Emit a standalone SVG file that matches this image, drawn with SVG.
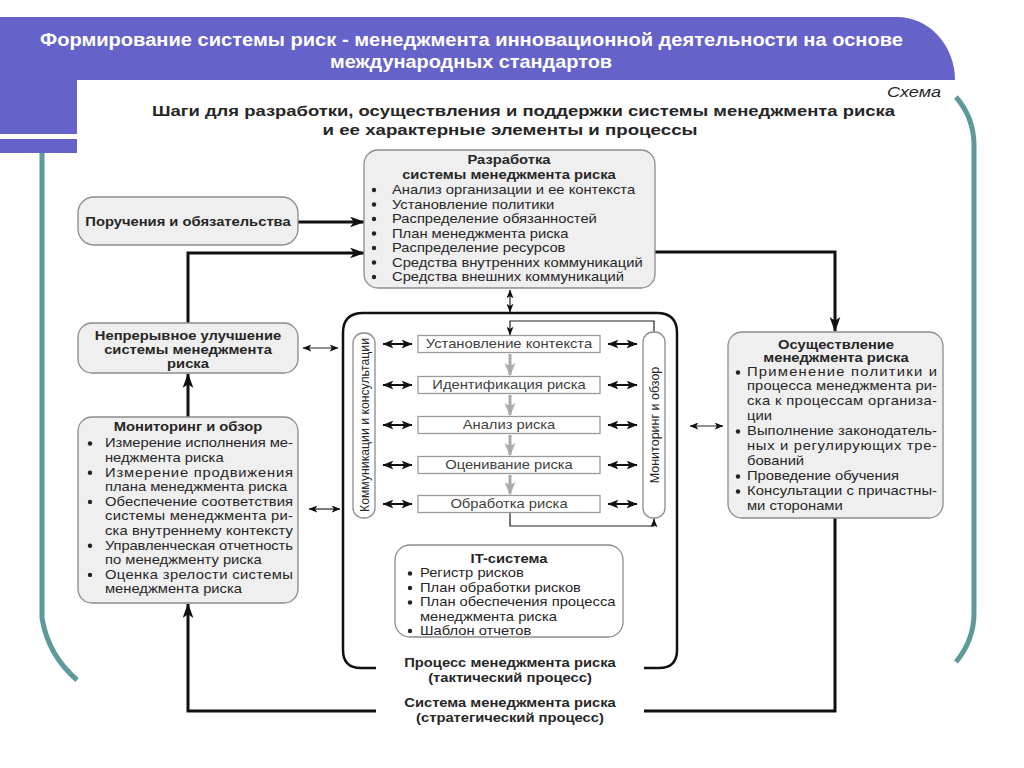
<svg xmlns="http://www.w3.org/2000/svg" width="1024" height="768" viewBox="0 0 1024 768">
<defs>
<style>
.t{font-family:"Liberation Sans",Arial,sans-serif;font-size:13px;fill:#262626}
.b{font-weight:bold}
.m{text-anchor:middle}
.box{fill:#efefef;stroke:#8c8c8c;stroke-width:1.3}
.wbox{fill:#ffffff;stroke:#8c8c8c;stroke-width:1.3}
.step{fill:#ffffff;stroke:#9a9a9a;stroke-width:1.3}
.thick{fill:none;stroke:#111;stroke-width:3}
.frame{fill:none;stroke:#111;stroke-width:2.5}
.thin{fill:none;stroke:#222;stroke-width:1.2}
.dbl{fill:none;stroke:#111;stroke-width:2}
.gray{fill:none;stroke:#aaaaaa;stroke-width:3}
.teal{fill:none;stroke:#5f9a9b;stroke-width:5}
.bul{fill:#222}
.st{fill:#404040}
</style>
<marker id="ah" viewBox="0 0 14 10" refX="13" refY="5" markerWidth="15" markerHeight="11" orient="auto" markerUnits="userSpaceOnUse"><path d="M0,0 L14,5 L0,10 L3.5,5 Z" fill="#111"/></marker>
<marker id="sm" viewBox="0 0 10 8" refX="9.5" refY="4" markerWidth="9" markerHeight="7" orient="auto-start-reverse" markerUnits="userSpaceOnUse"><path d="M0,0 L10,4 L0,8 L2.5,4 Z" fill="#111"/></marker>
<marker id="md" viewBox="0 0 10 8" refX="9.5" refY="4" markerWidth="11" markerHeight="9" orient="auto-start-reverse" markerUnits="userSpaceOnUse"><path d="M0,0 L10,4 L0,8 L2.5,4 Z" fill="#111"/></marker>
<marker id="ga" viewBox="0 0 12 10" refX="11" refY="5" markerWidth="13" markerHeight="11" orient="auto" markerUnits="userSpaceOnUse"><path d="M0,0 L12,5 L0,10 L3,5 Z" fill="#aaaaaa"/></marker>
</defs>
<rect width="1024" height="768" fill="#ffffff"/>
<g id="background">
<path d="M0,17 H897 A58,63 0 0 1 955,80 H0 Z" fill="#6563c9"/>
<rect x="0" y="80" width="77" height="54" fill="#6563c9"/>
<rect x="0" y="139" width="77" height="14" fill="#6563c9"/>
<path class="teal" d="M42,153 V618 Q48,655 77,680"/>
<path class="teal" d="M956,97 Q974,118 974,145 V613 Q974,640 956,662"/>
</g>
<g id="title">
<text class="t b m" x="471.5" y="46" style="font-size:18px;fill:#ffffff" textLength="863" lengthAdjust="spacingAndGlyphs">Формирование системы риск - менеджмента  инновационной деятельности на основе</text>
<text class="t b m" x="471" y="68" style="font-size:18px;fill:#ffffff" textLength="282" lengthAdjust="spacingAndGlyphs">международных стандартов</text>
<text class="t" x="941" y="97" style="font-size:14px;font-style:italic;text-anchor:end" textLength="54" lengthAdjust="spacingAndGlyphs">Схема</text>
<text class="t b m" x="523.5" y="116" style="font-size:15px" textLength="743" lengthAdjust="spacingAndGlyphs">Шаги для разработки, осуществления и поддержки системы менеджмента риска</text>
<text class="t b m" x="510" y="135" style="font-size:15px" textLength="375" lengthAdjust="spacingAndGlyphs">и ее характерные элементы и процессы</text>
</g>
<g id="connectors">
<line class="thick" x1="298" y1="222" x2="364" y2="222" marker-end="url(#ah)"/>
<polyline class="thick" points="188,323 188,253 364,253" marker-end="url(#ah)"/>
<line class="thick" x1="188" y1="417" x2="188" y2="374" marker-end="url(#ah)"/>
<polyline class="thick" points="376,711 188,711 188,604" marker-end="url(#ah)"/>
<polyline class="thick" points="655,252 835,252 835,331" marker-end="url(#ah)"/>
<polyline class="thick" points="835,518 835,711 644,711"/>
<line class="thin" x1="303" y1="348" x2="338" y2="348" marker-start="url(#sm)" marker-end="url(#sm)"/>
<line class="thin" x1="309" y1="509" x2="340" y2="509" marker-start="url(#sm)" marker-end="url(#sm)"/>
<line class="thin" x1="690" y1="426" x2="723" y2="426" marker-start="url(#sm)" marker-end="url(#sm)"/>
<line class="thin" x1="510" y1="290" x2="510" y2="312" marker-start="url(#sm)" marker-end="url(#sm)"/>
<polyline class="thin" points="654,332 654,321 510,321 510,335" marker-end="url(#sm)"/>
<polyline class="thin" points="510,513 510,526 654,526 654,519" marker-end="url(#sm)"/>
<line class="dbl" x1="383" y1="344" x2="412" y2="344" marker-start="url(#md)" marker-end="url(#md)"/>
<line class="dbl" x1="383" y1="385" x2="412" y2="385" marker-start="url(#md)" marker-end="url(#md)"/>
<line class="dbl" x1="383" y1="425" x2="412" y2="425" marker-start="url(#md)" marker-end="url(#md)"/>
<line class="dbl" x1="383" y1="465" x2="412" y2="465" marker-start="url(#md)" marker-end="url(#md)"/>
<line class="dbl" x1="383" y1="504" x2="412" y2="504" marker-start="url(#md)" marker-end="url(#md)"/>
<line class="dbl" x1="608" y1="344" x2="637" y2="344" marker-start="url(#md)" marker-end="url(#md)"/>
<line class="dbl" x1="608" y1="385" x2="637" y2="385" marker-start="url(#md)" marker-end="url(#md)"/>
<line class="dbl" x1="608" y1="425" x2="637" y2="425" marker-start="url(#md)" marker-end="url(#md)"/>
<line class="dbl" x1="608" y1="465" x2="637" y2="465" marker-start="url(#md)" marker-end="url(#md)"/>
<line class="dbl" x1="608" y1="504" x2="637" y2="504" marker-start="url(#md)" marker-end="url(#md)"/>
<line class="gray" x1="510" y1="354" x2="510" y2="375" marker-end="url(#ga)"/>
<line class="gray" x1="510" y1="395" x2="510" y2="415" marker-end="url(#ga)"/>
<line class="gray" x1="510" y1="435" x2="510" y2="455" marker-end="url(#ga)"/>
<line class="gray" x1="510" y1="475" x2="510" y2="494" marker-end="url(#ga)"/>
</g>
<g id="tactical-frame">
<path class="frame" d="M376,668 H361 Q343,668 343,650 V333 Q343,313 363,313 H657 Q677,313 677,333 V650 Q677,668 659,668 H644"/>
<g transform="matrix(1.135,0,0,1,-68.85,0)">
<text class="t b m" x="510" y="667.5">Процесс менеджмента риска</text>
<text class="t b m" x="510" y="682">(тактический процесс)</text>
</g>
</g>
<g id="strategic-label">
<g transform="matrix(1.135,0,0,1,-68.85,0)">
<text class="t b m" x="510" y="707.5">Система менеджмента риска</text>
<text class="t b m" x="510" y="722">(стратегический процесс)</text>
</g>
</g>
<g id="dev">
<rect class="box" x="364" y="150" width="291" height="138" rx="14"/>
<g transform="matrix(1.135,0,0,1,-68.715,0)">
<text class="t b m" x="509" y="164.5">Разработка</text>
<text class="t b m" x="509" y="179">системы менеджмента риска</text>
</g>
<circle class="bul" cx="374" cy="190" r="2.2"/>
<circle class="bul" cx="374" cy="204.5" r="2.2"/>
<circle class="bul" cx="374" cy="219" r="2.2"/>
<circle class="bul" cx="374" cy="233.5" r="2.2"/>
<circle class="bul" cx="374" cy="248" r="2.2"/>
<circle class="bul" cx="374" cy="262.5" r="2.2"/>
<circle class="bul" cx="374" cy="277" r="2.2"/>
<g transform="matrix(1.135,0,0,1,-52.92,0)">
<text class="t" x="392" y="194.5">Анализ организации и ее контекста</text>
<text class="t" x="392" y="209">Установление политики</text>
<text class="t" x="392" y="223.5">Распределение обязанностей</text>
<text class="t" x="392" y="238">План менеджмента риска</text>
<text class="t" x="392" y="252.5">Распределение ресурсов</text>
<text class="t" x="392" y="267">Средства внутренних коммуникаций</text>
<text class="t" x="392" y="281.5">Средства внешних коммуникаций</text>
</g>
</g>
<g id="orders">
<rect class="box" x="78" y="197" width="220" height="48" rx="16"/>
<text class="t b m" x="188" y="226.5" transform="matrix(1.135,0,0,1,-25.38,0)">Поручения и обязательства</text>
</g>
<g id="improvement">
<rect class="box" x="78" y="323" width="220" height="50" rx="14"/>
<g transform="matrix(1.135,0,0,1,-25.38,0)">
<text class="t b m" x="188" y="340">Непрерывное улучшение</text>
<text class="t b m" x="188" y="354">системы менеджмента</text>
<text class="t b m" x="188" y="368">риска</text>
</g>
</g>
<g id="monitoring">
<rect class="box" x="78" y="417" width="220" height="186" rx="14"/>
<text class="t b m" x="188" y="431.5" transform="matrix(1.135,0,0,1,-25.38,0)">Мониторинг и обзор</text>
<circle class="bul" cx="90" cy="443.5" r="2.2"/>
<circle class="bul" cx="90" cy="472.7" r="2.2"/>
<circle class="bul" cx="90" cy="501.9" r="2.2"/>
<circle class="bul" cx="90" cy="545.7" r="2.2"/>
<circle class="bul" cx="90" cy="574.9" r="2.2"/>
<g transform="matrix(1.135,0,0,1,-14.175,0)">
<text class="t" x="105" y="447.5" textLength="165.6" lengthAdjust="spacing">Измерение исполнения ме-</text>
<text class="t" x="105" y="462.1">неджмента риска</text>
<text class="t" x="105" y="476.7" textLength="165.6" lengthAdjust="spacing">Измерение продвижения</text>
<text class="t" x="105" y="491.3">плана менеджмента риска</text>
<text class="t" x="105" y="505.9" textLength="165.6" lengthAdjust="spacing">Обеспечение соответствия</text>
<text class="t" x="105" y="520.5" textLength="165.6" lengthAdjust="spacing">системы менеджмента ри-</text>
<text class="t" x="105" y="535.1" textLength="165.6" lengthAdjust="spacing">ска внутреннему контексту</text>
<text class="t" x="105" y="549.7" textLength="165.6" lengthAdjust="spacing">Управленческая отчетность</text>
<text class="t" x="105" y="564.3">по менеджменту риска</text>
<text class="t" x="105" y="578.9" textLength="165.6" lengthAdjust="spacing">Оценка зрелости системы</text>
<text class="t" x="105" y="593.5">менеджмента риска</text>
</g>
</g>
<g id="implementation">
<rect class="box" x="728" y="332" width="215" height="186" rx="14"/>
<g transform="matrix(1.135,0,0,1,-112.86,0)">
<text class="t b m" x="836" y="349.5">Осуществление</text>
<text class="t b m" x="836" y="362.5">менеджмента риска</text>
</g>
<circle class="bul" cx="738" cy="372.5" r="2.2"/>
<circle class="bul" cx="738" cy="431.5" r="2.2"/>
<circle class="bul" cx="738" cy="476.5" r="2.2"/>
<circle class="bul" cx="738" cy="491.5" r="2.2"/>
<g transform="matrix(1.135,0,0,1,-100.845,0)">
<text class="t" x="747" y="376.5" textLength="167.4" lengthAdjust="spacing">Применение политики и</text>
<text class="t" x="747" y="390.5" textLength="167.4" lengthAdjust="spacing">процесса менеджмента ри-</text>
<text class="t" x="747" y="405.5" textLength="167.4" lengthAdjust="spacing">ска к процессам организа-</text>
<text class="t" x="747" y="420.5">ции</text>
<text class="t" x="747" y="435.5" textLength="167.4" lengthAdjust="spacing">Выполнение законодатель-</text>
<text class="t" x="747" y="450.5" textLength="167.4" lengthAdjust="spacing">ных и регулирующих тре-</text>
<text class="t" x="747" y="465.5">бований</text>
<text class="t" x="747" y="480.5">Проведение обучения</text>
<text class="t" x="747" y="495.5" textLength="167.4" lengthAdjust="spacing">Консультации с причастны-</text>
<text class="t" x="747" y="510.5">ми сторонами</text>
</g>
</g>
<g id="communications">
<rect class="wbox" x="353" y="333" width="22" height="185" rx="10"/>
<text class="t m" transform="translate(368.5,425) rotate(-90)" x="0" y="0" style="font-size:12.5px" textLength="174" lengthAdjust="spacingAndGlyphs">Коммуникации и консультации</text>
</g>
<g id="monitoring-vertical">
<rect class="wbox" x="643" y="332" width="22" height="186" rx="10"/>
<text class="t m" transform="translate(658.5,425) rotate(-90)" x="0" y="0" style="font-size:12.5px">Мониторинг и обзор</text>
</g>
<g id="step-context">
<rect class="step" x="418" y="335.5" width="182" height="17"/>
<text class="t m st" x="509" y="348.5" transform="matrix(1.135,0,0,1,-68.715,0)">Установление контекста</text>
</g>
<g id="step-identification">
<rect class="step" x="418" y="376.5" width="182" height="17"/>
<text class="t m st" x="509" y="389.5" transform="matrix(1.135,0,0,1,-68.715,0)">Идентификация риска</text>
</g>
<g id="step-analysis">
<rect class="step" x="418" y="416.5" width="182" height="17"/>
<text class="t m st" x="509" y="429.5" transform="matrix(1.135,0,0,1,-68.715,0)">Анализ риска</text>
</g>
<g id="step-evaluation">
<rect class="step" x="418" y="456.5" width="182" height="17"/>
<text class="t m st" x="509" y="469.5" transform="matrix(1.135,0,0,1,-68.715,0)">Оценивание риска</text>
</g>
<g id="step-treatment">
<rect class="step" x="418" y="495.5" width="182" height="17"/>
<text class="t m st" x="509" y="508.5" transform="matrix(1.135,0,0,1,-68.715,0)">Обработка риска</text>
</g>
<g id="it-system">
<rect class="wbox" x="395" y="545" width="228" height="92" rx="15"/>
<text class="t b m" x="509" y="563.5" transform="matrix(1.135,0,0,1,-68.715,0)">IT-система</text>
<circle class="bul" cx="410" cy="573.5" r="2.2"/>
<circle class="bul" cx="410" cy="588" r="2.2"/>
<circle class="bul" cx="410" cy="602.5" r="2.2"/>
<circle class="bul" cx="410" cy="631" r="2.2"/>
<g transform="matrix(1.135,0,0,1,-56.7,0)">
<text class="t" x="420" y="577.5">Регистр рисков</text>
<text class="t" x="420" y="592">План обработки рисков</text>
<text class="t" x="420" y="606.5">План обеспечения процесса</text>
<text class="t" x="420" y="621">менеджмента риска</text>
<text class="t" x="420" y="635">Шаблон отчетов</text>
</g>
</g>
</svg>
